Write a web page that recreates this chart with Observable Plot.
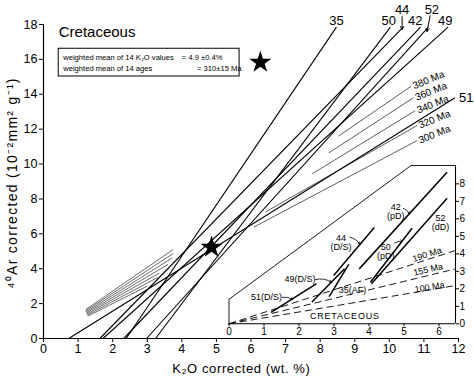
<!DOCTYPE html>
<html><head><meta charset="utf-8">
<script src="https://cdn.jsdelivr.net/npm/d3@7"></script>
<script src="https://cdn.jsdelivr.net/npm/@observablehq/plot@0.6"></script>
<style>
body{margin:0;background:#fff;}
#wrap{position:relative;width:474px;height:380px;overflow:hidden;background:#fff;}
#wrap svg{position:absolute;overflow:visible;}
</style></head><body><div id="wrap"></div>
<script>
// ---------- main panel data ----------
const xTickValues = [0,1,2,3,4,5,6,7,8,9,10,11,12];
const yTickValues = [0,2,4,6,8,10,12,14,16,18];

const sampleIds   = ["35","50","44","42","52","49","51"];
const sampleK0    = [2.39, 3.24, 1.63, 2.32, 2.98, 1.72, 0.73];   // K2O where 40Ar = 0
const sampleKEnd  = [8.47, 10.03, 10.40, 10.90, 11.13, 11.70, 11.90];
const sampleArEnd = [17.85, 17.85, 17.85, 17.85, 17.85, 17.85, 13.80];

const ageLabels = ["380 Ma","360 Ma","340 Ma","320 Ma","300 Ma"];
const ageSlopes = [1.36, 1.29, 1.215, 1.13, 1.05];
const ageKStart = [8.53, 8.25, 7.77, 6.42, 6.09];
const ageKEnd   = [10.63, 10.70, 10.75, 10.80, 10.80];

const bundleSlopes = [1.36, 1.30, 1.24, 1.18, 1.12, 1.06, 1.00];
const bundleKStart = [1.22, 1.22, 1.23, 1.24, 1.25, 1.26, 1.28];
const bundleKEnd   = [3.75, 3.75, 3.72, 3.60, 3.35, 3.30, 3.00];

const starK2O = [4.86, 6.27];
const starAr  = [5.23, 15.83];

// ---------- inset data ----------
const insetXTicks = [0,1,2,3,4,5,6];
const insetYTicks = [0,1,2,3,4,5,6,7,8];
const insetIds = ["51(D/S)","49(D/S)","35(AF)","44\n(D/S)","42\n(pD)","50\n(pD)","52\n(dD)"];
const insetK1  = [1.20, 2.37, 2.86, 2.99, 3.72, 4.04, 4.07];
const insetAr1 = [0.65, 1.25, 1.55, 2.76, 3.14, 2.38, 2.29];
const insetK2  = [2.50, 3.30, 3.42, 4.15, 6.23, 5.23, 6.23];
const insetAr2 = [2.30, 3.15, 3.40, 5.50, 8.66, 5.46, 7.18];
const insetAges = ["190 Ma","155 Ma","100 Ma"];
const insetAgeSlopes = [0.648, 0.485, 0.338];

// ---------- tables ----------
const samples = sampleIds.map((id,i)=>({id, k0:sampleK0[i], a0:0, k1:sampleKEnd[i], a1:sampleArEnd[i]}));
const ageLines = ageLabels.map((t,i)=>({t, k0:ageKStart[i], a0:ageSlopes[i]*ageKStart[i], k1:ageKEnd[i], a1:ageSlopes[i]*ageKEnd[i]}));
const bundle = bundleSlopes.map((s,i)=>({k0:bundleKStart[i], a0:s*bundleKStart[i], k1:bundleKEnd[i], a1:s*bundleKEnd[i]}));
const stars = starK2O.map((k,i)=>({k, a:starAr[i]}));

const FONT = "'Liberation Sans', Arial, Helvetica, sans-serif";

// label placement (annotation layout)
const sampleLabelPos = {"35":[8.47,18.19],"50":[9.98,18.19],"44":[10.37,18.85],"42":[10.75,18.19],"52":[11.23,18.85],"49":[11.62,18.19]};
const topLabels = sampleIds.filter(id=>sampleLabelPos[id]).map(id=>({t:id, x:sampleLabelPos[id][0], y:sampleLabelPos[id][1]}));
const topArrows = [{x1:10.37,y1:18.45,x2:10.37,y2:17.72},{x1:11.18,y1:18.5,x2:11.09,y2:17.6}];
const lab51 = samples.filter(d=>d.id==="51");

const mainPlot = Plot.plot({
  width:474, height:380,
  marginLeft:43, marginRight:16, marginTop:24, marginBottom:42,
  style:{fontFamily:FONT, fontSize:"12.5px", color:"#000", background:"transparent"},
  x:{domain:[0,12], ticks:xTickValues, tickFormat:"d", tickSize:4, tickPadding:2, label:null},
  y:{domain:[0,18], ticks:yTickValues, tickFormat:"d", tickSize:4, tickPadding:2, label:null},
  marks:[
    Plot.ruleY([0], {x1:0, x2:12, stroke:"black", strokeWidth:1.2}),
    Plot.ruleX([0], {y1:0, y2:18, stroke:"black", strokeWidth:1.2}),
    Plot.link(bundle, {x1:"k0", y1:"a0", x2:"k1", y2:"a1", stroke:"#444", strokeWidth:0.8}),
    Plot.link(ageLines, {x1:"k0", y1:"a0", x2:"k1", y2:"a1", stroke:"#333", strokeWidth:0.8}),
    Plot.link(samples, {x1:"k0", y1:"a0", x2:"k1", y2:"a1", stroke:"black", strokeWidth:1.1}),
    Plot.text(ageLines, {x:"k1", y:"a1", text:"t", textAnchor:"start", dx:2, rotate:-22, fontSize:10}),
    Plot.text(lab51, {x:"k1", y:"a1", text:"id", textAnchor:"start", dx:4, fontSize:13}),
    Plot.text(topLabels, {x:"x", y:"y", text:"t", fontSize:13}),
    Plot.arrow(topArrows, {x1:"x1", y1:"y1", x2:"x2", y2:"y2", stroke:"black", strokeWidth:1, headLength:5}),
    Plot.dot(stars, {x:"k", y:"a", symbol:"star", r:7, fill:"black", stroke:"none"}),
    Plot.text([{t:"Cretaceous"}], {x:0.44, y:17.56, text:"t", textAnchor:"start", fontSize:15}),
    Plot.rect([{x1:0.44,x2:5.67,y1:15.02,y2:16.61}], {x1:"x1",x2:"x2",y1:"y1",y2:"y2", fill:"none", stroke:"black", strokeWidth:1}),
    Plot.text([{t:"weighted mean of 14 K₂O values",y:16.1},{t:"weighted mean of 14 ages",y:15.46}], {x:0.57, y:"y", text:"t", textAnchor:"start", fontSize:7.6}),
    Plot.text([{t:"= 4.9 ±0.4%",x:4.0,y:16.1},{t:"= 310±15 Ma",x:4.44,y:15.46}], {x:"x", y:"y", text:"t", textAnchor:"start", fontSize:7.6}),
    Plot.text([{t:"⁴⁰Ar corrected (10⁻²mm² g⁻¹)"}], {x:-0.896, y:8.92, text:"t", textAnchor:"middle", rotate:-90, fontSize:14}),
    Plot.text([{t:"K₂O corrected (wt. %)"}], {x:5.72, y:-1.72, text:"t", textAnchor:"middle", fontSize:13})
  ]
});
mainPlot.style.left = "0px"; mainPlot.style.top = "0px";

// ---------- inset ----------
const insetSegs = insetIds.map((id,i)=>({id, k1:insetK1[i], a1:insetAr1[i], k2:insetK2[i], a2:insetAr2[i]}));
const XMAX = 6.47, YMAX = 9.05;
const dashLines = insetAges.map((t,i)=>({t, k1:0, a1:0, k2:XMAX, a2:insetAgeSlopes[i]*XMAX}));
const dashLabelPos = [[5.66,3.96,-18],[5.69,3.1,-13],[5.73,2.09,-9]];
const dashLabels = insetAges.map((t,i)=>({t, x:dashLabelPos[i][0], y:dashLabelPos[i][1], r:dashLabelPos[i][2]}));
const insetLabelPos = [[1.07,1.5],[2.03,2.53],[3.53,1.9],[3.2,4.65],[4.76,6.41],[4.48,4.12],[6.04,5.76]];
const insetLabels = insetIds.map((t,i)=>({t, x:insetLabelPos[i][0], y:insetLabelPos[i][1]}));
const insetArrows = [
  {x1:1.52,y1:1.52,x2:1.82,y2:1.38},
  {x1:2.47,y1:2.53,x2:2.93,y2:2.38},
  {x1:3.45,y1:4.95,x2:3.74,y2:4.55},
  {x1:4.98,y1:6.6,x2:5.16,y2:6.28},
  {x1:4.73,y1:4.62,x2:4.95,y2:4.72}
];
const frameTop = [{k:0,a:1.4},{k:5.2,a:YMAX},{k:XMAX,a:YMAX}];
const frameLine = [{k:0,a:0},{k:0,a:1.4},{k:5.2,a:YMAX},{k:XMAX,a:YMAX}];

const insetPlot = Plot.plot({
  width:274, height:200,
  marginLeft:28.5, marginRight:19, marginTop:15, marginBottom:26.7,
  style:{fontFamily:FONT, fontSize:"10px", color:"#000", background:"transparent", overflow:"visible"},
  x:{domain:[0,XMAX], ticks:insetXTicks, tickFormat:"d", tickSize:3, tickPadding:1, label:null},
  y:{domain:[0,YMAX], axis:"right", ticks:insetYTicks, tickFormat:"d", tickSize:3, tickPadding:1, label:null},
  marks:[
    Plot.areaY(frameTop, {x:"k", y1:0, y2:"a", fill:"white"}),
    Plot.line(frameLine, {x:"k", y:"a", stroke:"black", strokeWidth:0.9}),
    Plot.ruleY([0], {x1:0, x2:XMAX, stroke:"black", strokeWidth:1.1}),
    Plot.ruleX([XMAX], {y1:0, y2:YMAX, stroke:"black", strokeWidth:1.1}),
    Plot.link(dashLines, {x1:"k1", y1:"a1", x2:"k2", y2:"a2", stroke:"black", strokeWidth:0.9, strokeDasharray:"7,4"}),
    Plot.link(insetSegs, {x1:"k1", y1:"a1", x2:"k2", y2:"a2", stroke:"black", strokeWidth:1.5}),
    Plot.text(dashLabels, {x:"x", y:"y", text:"t", rotate:d=>d.r, fontSize:9}),
    Plot.text(insetLabels, {x:"x", y:"y", text:"t", fontSize:9, lineHeight:1.0}),
    Plot.arrow(insetArrows, {x1:"x1", y1:"y1", x2:"x2", y2:"y2", bend:true, stroke:"black", strokeWidth:0.8, headLength:4}),
    Plot.text(["CRETACEOUS"], {x:3.31, y:0.42, fontSize:9})
  ]
});
insetPlot.style.left = "200px"; insetPlot.style.top = "150px";

const wrap = document.getElementById("wrap");
wrap.appendChild(mainPlot);
wrap.appendChild(insetPlot);
d3.select(mainPlot).selectAll("text").filter(function(){return this.textContent.startsWith("⁴⁰Ar");}).attr("letter-spacing","1.3px");
d3.select(mainPlot).selectAll("text").filter(function(){return this.textContent.startsWith("K₂O corr");}).attr("letter-spacing","0.6px");
d3.select(insetPlot).selectAll("text").filter(function(){return this.textContent==="CRETACEOUS";}).attr("letter-spacing","0.8px");
</script></body></html>
